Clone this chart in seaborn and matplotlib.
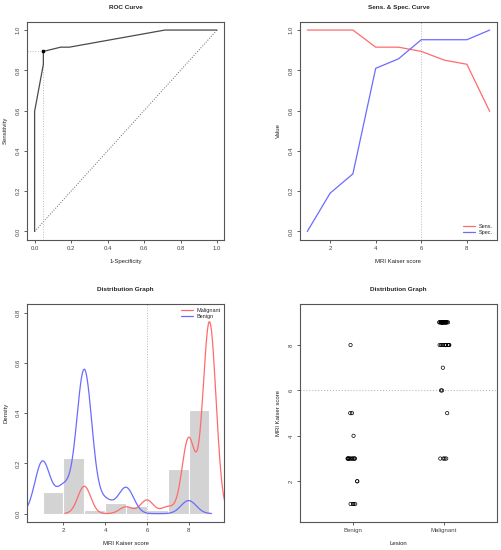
import numpy as np
import pandas as pd
import matplotlib
matplotlib.use('Agg')
import matplotlib.pyplot as plt
import seaborn as sns

# MRI Kaiser score counts per lesion type
scores = [1, 2, 3, 4, 5, 6, 7, 8, 9]
benign_counts = [4, 2, 11, 1, 2, 0, 0, 1, 0]
malignant_counts = [0, 0, 4, 0, 1, 2, 1, 11, 28]

# sensitivity / specificity per cut-off score
sens = [1.0, 1.0, 1.0, 0.915, 0.915, 0.894, 0.851, 0.830, 0.596]
spec = [0.0, 0.190, 0.286, 0.810, 0.857, 0.952, 0.952, 0.952, 1.0]

cutoff = 6
best_fpr, best_sens = 0.048, 0.894

lesion_order = ['Benign', 'Malignant']
RED = '#FF6B6B'
BLUE = '#6B6BFF'

sns.set_style('ticks')
plt.rcParams['font.family'] = ['Liberation Sans', 'DejaVu Sans']


def r_style(ax, title, xlabel, ylabel, yticks):
    ax.set_title(title, fontsize=4.6, fontweight='bold', pad=9.5)
    ax.set_xlabel(xlabel, fontsize=4.3, labelpad=5.5, color='#222')
    ax.set_ylabel(ylabel, fontsize=4.3, labelpad=5.5, color='#222')
    ax.set_yticks(yticks)
    ax.tick_params(labelsize=4.3, length=2.2, width=0.6, pad=2.5, colors='#444')
    for lab in ax.get_yticklabels():
        lab.set_rotation(90)
        lab.set_va('center')
    for sp in ax.spines.values():
        sp.set_visible(True)
        sp.set_color('#555555')
        sp.set_linewidth(0.8)


df = pd.DataFrame({
    'score': list(np.repeat(scores, benign_counts)) + list(np.repeat(scores, malignant_counts)),
    'lesion': ['Benign'] * sum(benign_counts) + ['Malignant'] * sum(malignant_counts),
})
benign = df.loc[df.lesion == 'Benign', 'score']
malignant = df.loc[df.lesion == 'Malignant', 'score']

fig = plt.figure(figsize=(5.01, 5.5), dpi=100)
w, h = 0.3932, 0.3955
ax1 = fig.add_axes([0.0545, 0.5645, w, h])
ax2 = fig.add_axes([0.5988, 0.5645, w, h])
ax3 = fig.add_axes([0.0545, 0.0515, w, h])
ax4 = fig.add_axes([0.5988, 0.0515, w, h])

# ROC curve
roc = pd.DataFrame({'fpr': [0.0] + [1 - s for s in spec[::-1]],
                    'tpr': [0.0] + sens[::-1]})
ax1.plot([0, 1], [0, 1], ls=':', color='#666666', lw=0.7)
ax1.plot([-0.04, best_fpr], [best_sens, best_sens], ls=':', color='#BBBBBB', lw=0.7)
ax1.plot([best_fpr, best_fpr], [-0.04, best_sens], ls=':', color='#BBBBBB', lw=0.7)
sns.lineplot(data=roc, x='fpr', y='tpr', sort=False, estimator=None,
             color='#4A4A4A', lw=0.9, ax=ax1)
ax1.plot(best_fpr, best_sens, 's', ms=1.6, color='black')
ax1.set_xlim(-0.04, 1.04)
ax1.set_ylim(-0.04, 1.04)
ax1.set_xticks([0, 0.2, 0.4, 0.6, 0.8, 1.0])
r_style(ax1, 'ROC Curve', '1-Specificity', 'Sensitivity', [0, 0.2, 0.4, 0.6, 0.8, 1.0])
ax1.xaxis.set_major_formatter('{x:.1f}')
ax1.yaxis.set_major_formatter('{x:.1f}')

# Sens & Spec curve
ss = pd.DataFrame({'score': scores * 2, 'value': sens + spec,
                   'measure': ['Sens.'] * len(scores) + ['Spec.'] * len(scores)})
ax2.axvline(cutoff, ls=':', color='#BBBBBB', lw=0.7)
sns.lineplot(data=ss, x='score', y='value', hue='measure',
             palette={'Sens.': RED, 'Spec.': BLUE}, lw=0.9, ax=ax2)
ax2.set_xlim(0.68, 9.32)
ax2.set_ylim(-0.04, 1.04)
ax2.set_xticks([2, 4, 6, 8])
r_style(ax2, 'Sens. & Spec. Curve', 'MRI Kaiser score', 'Value', [0, 0.2, 0.4, 0.6, 0.8, 1.0])
ax2.yaxis.set_major_formatter('{x:.1f}')
ax2.legend(loc='lower right', frameon=False, fontsize=4, handlelength=2.2,
           handletextpad=0.6, labelspacing=0.25, borderaxespad=0.4)

# Distribution graph: histogram + KDE per lesion
# R hist uses right-closed bins, so nudge the inner edges a hair to the right
edges = [1] + [s + 1e-6 for s in scores[1:]]
sns.histplot(x=df.score, bins=edges, stat='density', color='#D3D3D3',
             edgecolor='white', linewidth=0.8, alpha=1, ax=ax3)
ax3.axvline(cutoff, ls=':', color='#BBBBBB', lw=0.7)
sns.kdeplot(x=malignant, bw_method=0.311 / malignant.std(), cut=3, color=RED,
            lw=0.9, label='Malignant', ax=ax3)
sns.kdeplot(x=benign, bw_method=0.365 / benign.std(), cut=3, color=BLUE,
            lw=0.9, label='Benign', ax=ax3)
ax3.set_xlim(0.27, 9.71)
ax3.set_ylim(-0.032, 0.835)
ax3.set_xticks([2, 4, 6, 8])
r_style(ax3, 'Distribution Graph', 'MRI Kaiser score', 'Density', [0, 0.2, 0.4, 0.6, 0.8])
ax3.yaxis.set_major_formatter('{x:.1f}')
ax3.legend(loc='upper right', frameon=False, fontsize=4, handlelength=2.2,
           handletextpad=0.6, labelspacing=0.25, borderaxespad=0.3)

# Distribution graph: strip chart
np.random.seed(3)
ax4.axhline(cutoff, ls=':', color='#BBBBBB', lw=0.8)
sns.stripplot(data=df, x='lesion', y='score', order=lesion_order, jitter=0.06,
              color='black', size=2.4, linewidth=0.5, ax=ax4)
for c in ax4.collections:
    c.set_facecolor('none')
    c.set_edgecolor('black')
ax4.set_xlim(-0.58, 1.58)
ax4.set_ylim(0.22, 9.8)
r_style(ax4, 'Distribution Graph', 'Lesion', 'MRI Kaiser score', [2, 4, 6, 8])

fig.savefig('out.png', dpi=100)
